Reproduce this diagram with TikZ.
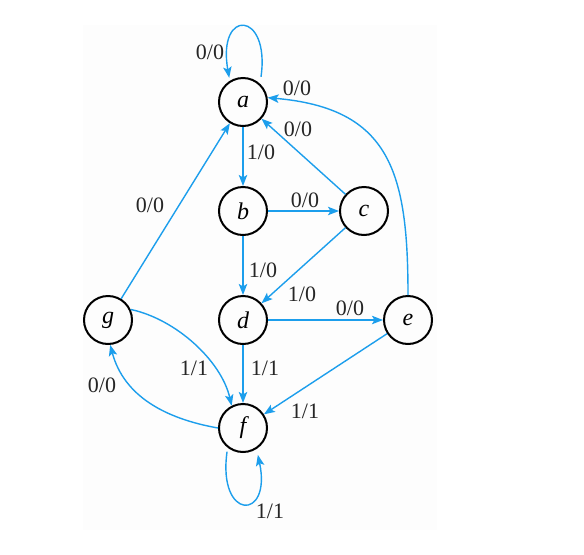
\documentclass[tikz,border=0pt]{standalone}
\usepackage{fontspec}
\setmainfont{Liberation Serif}
\usetikzlibrary{arrows.meta}
\definecolor{edgeblue}{RGB}{28,158,236}
\definecolor{bgpaper}{RGB}{253,253,253}
\begin{document}
\begin{tikzpicture}[x=0.5pt,y=0.5pt,
  state/.style={circle,draw=black,line width=1pt,minimum size=24pt,inner sep=0pt,font=\fontsize{12}{14}\selectfont\itshape},
  arr/.style={draw=edgeblue,line width=0.7pt,-{Stealth[length=5.5pt,width=4.2pt,inset=1.2pt]}},
  lbl/.style={font=\fontsize{11}{13}\selectfont,inner sep=0pt,text=black!85}]
\useasboundingbox (0,0) rectangle (584,554);
\fill[bgpaper] (83,24) rectangle (437,529);
% states
\node[state] (a) at (243,452) {a};
\node[state] (b) at (243,343) {b};
\node[state] (c) at (364,343) {c};
\node[state] (d) at (243,234) {d};
\node[state] (e) at (408,234) {e};
\node[state] (g) at (108,234) {g};
\node[state] (f) at (243,126) {f};
% edges
\draw[arr,shorten <=3.5pt,shorten >=1.5pt] (a.47) .. controls +(82:74) and +(100:74) .. (a.122);
\draw[arr] (e.north) to[out=90,in=-5,looseness=1.3] (a.10);
\draw[arr] (c) -- (a);
\draw[arr] (a) -- (b);
\draw[arr] (g) -- (a);
\draw[arr] (b) -- (c);
\draw[arr] (b) -- (d);
\draw[arr] (c) -- (d);
\draw[arr] (d) -- (e);
\draw[arr] (g.25) to[out=-12,in=103,looseness=0.85] (f.117);
\draw[arr] (d) -- (f);
\draw[arr] (e) -- (f);
\draw[arr] (f.180) to[out=170,in=-75] (g.-85);
\draw[arr,shorten <=2pt,shorten >=3pt] (f.232) .. controls +(262:74) and +(282:74) .. (f.303);
% labels
\node[lbl] (l1) at (210,502) {0/0};
\node[lbl] (l2) at (297,466) {0/0};
\node[lbl] (l3) at (298,425) {0/0};
\node[lbl] (l4) at (261,402) {1/0};
\node[lbl] (l5) at (150,349) {0/0};
\node[lbl] (l6) at (305,354) {0/0};
\node[lbl] (l7) at (263,284) {1/0};
\node[lbl] (l8) at (302,260) {1/0};
\node[lbl] (l9) at (350,246) {0/0};
\node[lbl] (l10) at (194,186) {1/1};
\node[lbl] (l11) at (265,186) {1/1};
\node[lbl] (l12) at (102,169) {0/0};
\node[lbl] (l13) at (305,143) {1/1};
\node[lbl] (l14) at (270,43) {1/1};
\end{tikzpicture}
\end{document}
